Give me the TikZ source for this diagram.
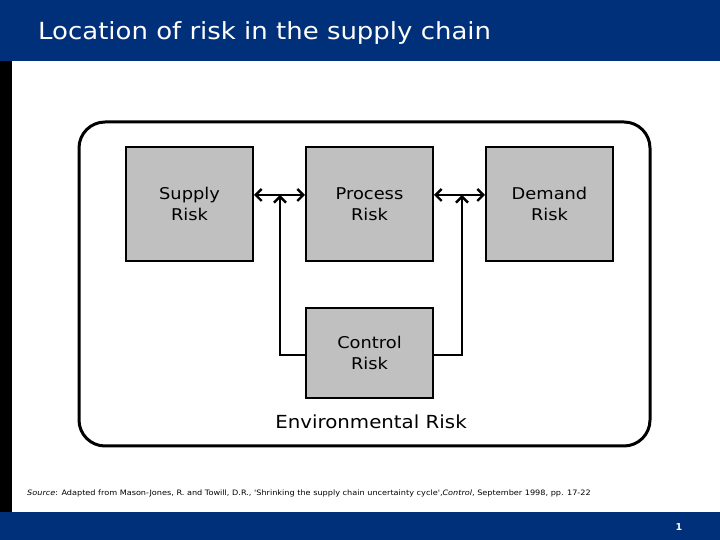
\documentclass[tikz,border=0pt]{standalone}
\usepackage{fontspec}
\setmainfont{DejaVu Sans}
\newfontfamily\widefont[FakeStretch=1.1]{DejaVu Sans}
\usetikzlibrary{arrows.meta}
\definecolor{barblue}{HTML}{00307A}
\definecolor{boxgray}{HTML}{C0C0C0}
\begin{document}
\begin{tikzpicture}[x=1pt,y=1pt,
  riskbox/.style={draw=black,line width=2pt,fill=boxgray,minimum width=127pt,align=center,font=\widefont\fontsize{16.2}{21}\selectfont,inner sep=0pt},
  conn/.style={line width=2.6pt,-{Straight Barb[length=6pt,width=12pt,line width=2.4pt]}},
  dconn/.style={line width=2.6pt,{Straight Barb[length=6pt,width=12pt,line width=2.4pt]}-{Straight Barb[length=6pt,width=12pt,line width=2.4pt]}}]
\useasboundingbox (0,0) rectangle (720,540);
\fill[white] (0,0) rectangle (720,540);
\fill[barblue] (0,479) rectangle (720,540);
\fill[barblue] (0,0) rectangle (720,28);
\fill[black] (0,28) rectangle (12,479);
\node[anchor=west,text=white,font=\widefont\fontsize{23.6}{27}\selectfont,inner sep=0pt] (title) at (38,507) {Location of risk in the supply chain};
\draw[line width=3pt,rounded corners=26pt] (79,94) rectangle (650,418);
\node[riskbox,minimum height=114pt] (supply) at (189.5,336) {Supply\\Risk};
\node[riskbox,minimum height=114pt] (process) at (369.5,336) {Process\\Risk};
\node[riskbox,minimum height=114pt] (demand) at (549.5,336) {Demand\\Risk};
\node[riskbox,minimum height=90pt] (control) at (369.5,187) {Control\\Risk};
\draw[dconn] (supply.east |- 0,345) -- (process.west |- 0,345);
\draw[dconn] (process.east |- 0,345) -- (demand.west |- 0,345);
\draw[conn] (control.west |- 0,185) -- (280,185) -- (280,345);
\draw[conn] (control.east |- 0,185) -- (462,185) -- (462,345);
\node[font=\widefont\fontsize{18}{22}\selectfont,inner sep=0pt] (env) at (371,118) {Environmental Risk};
\node[anchor=west,font=\widefont\fontsize{7.4}{9}\selectfont,inner sep=0pt] (src) at (27,47) {\textit{Source}: Adapted from Mason-Jones, R. and Towill, D.R., 'Shrinking the supply chain uncertainty cycle',\textit{Control}, September 1998, pp. 17-22};
\node[text=white,font=\bfseries\fontsize{9.5}{11}\selectfont,inner sep=0pt] (pg) at (679,13) {1};
\end{tikzpicture}
\end{document}
